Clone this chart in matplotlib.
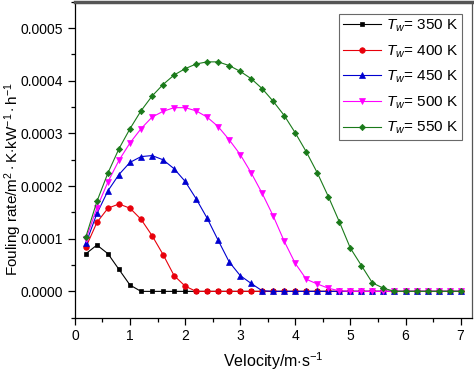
import matplotlib
matplotlib.use("Agg")
import matplotlib.pyplot as plt
import numpy as np
from matplotlib.ticker import MultipleLocator, FormatStrFormatter

plt.rcParams["font.family"] = ["Liberation Sans", "DejaVu Sans"]
plt.rcParams["mathtext.fontset"] = "custom"
plt.rcParams["mathtext.rm"] = "Liberation Sans"
plt.rcParams["mathtext.it"] = "Liberation Sans:italic"

# velocity grid, m/s
velocity = np.round(np.arange(0.2, 7.01, 0.2), 1)

# fouling rate in units of 1e-4 (zeros to the end)
t350 = [0.715, 0.88, 0.715, 0.417, 0.12]
t400 = [0.84, 1.31, 1.58, 1.66, 1.58, 1.37, 1.06, 0.70, 0.30, 0.10]
t450 = [0.91, 1.48, 1.91, 2.22, 2.45, 2.56, 2.58, 2.50, 2.33, 2.09,
        1.76, 1.39, 0.97, 0.56, 0.30, 0.15, 0.01]
t500 = [0.99, 1.59, 2.08, 2.49, 2.82, 3.09, 3.31, 3.42, 3.49, 3.49,
        3.43, 3.31, 3.13, 2.88, 2.60, 2.25, 1.86, 1.43, 0.95, 0.53,
        0.23, 0.14, 0.06, 0.01]
t550 = [1.04, 1.71, 2.25, 2.71, 3.09, 3.43, 3.71, 3.93, 4.11, 4.23,
        4.32, 4.36, 4.36, 4.29, 4.18, 4.04, 3.85, 3.61, 3.34, 3.01,
        2.65, 2.25, 1.80, 1.32, 0.82, 0.49, 0.16, 0.06]

labels = ["350", "400", "450", "500", "550"]
colors = ["#000000", "#e8000b", "#0000d0", "#ff00ff", "#1a7a1a"]
markers = ["s", "o", "^", "v", "D"]
msizes = [3.5, 4, 4, 4, 3.2]


def pad(vals):
    out = np.zeros(len(velocity))
    out[:len(vals)] = vals
    return out * 1e-4


series = [t350, t400, t450, t500, t550]

fig = plt.figure(figsize=(4.74, 3.72), dpi=100)
ax = fig.add_axes([0.158, 0.146, 0.837, 0.849])

for vals, lbl, c, m, ms in zip(series, labels, colors, markers, msizes):
    ax.plot(velocity, pad(vals), color=c, marker=m, markersize=ms,
            linewidth=0.8, markeredgewidth=0.5,
            label=r"$T_w$= " + lbl + " K")

ax.set_xlim(0, 7.2)
ax.set_ylim(-0.00005, 0.00055)
ax.xaxis.set_major_locator(MultipleLocator(1))
ax.xaxis.set_minor_locator(MultipleLocator(0.5))
ax.yaxis.set_major_locator(MultipleLocator(0.0001))
ax.yaxis.set_minor_locator(MultipleLocator(0.00005))
ax.yaxis.set_major_formatter(FormatStrFormatter("%.4f"))
ax.tick_params(which="major", direction="out", length=5, width=0.9,
               labelsize=10, top=False, right=False)
ax.tick_params(which="minor", direction="out", length=3, width=0.9,
               top=False, right=False)
for s in ax.spines.values():
    s.set_linewidth(0.9)
ax.spines["top"].set_linewidth(2.5)
ax.spines["top"].set_color("#555555")
ax.spines["right"].set_color("#555555")

ax.set_xlabel(r"Velocity/m$\cdot$s$^{-1}$", fontsize=11.5, labelpad=5)
ax.set_ylabel(r"Fouling rate/m$^{2}\cdot$K$\cdot$kW$^{-1}\cdot$h$^{-1}$",
              fontsize=11)
ax.yaxis.set_label_coords(-0.128, 0.44)

leg = ax.legend(loc="upper right", bbox_to_anchor=(0.975, 0.962),
                fontsize=11, frameon=True, fancybox=False,
                handlelength=2.5, handletextpad=0.3, labelspacing=0.6,
                borderpad=0.25, borderaxespad=0.0)
leg.get_frame().set_edgecolor("#444444")
leg.get_frame().set_linewidth(0.8)

fig.savefig("out.png", dpi=100)
